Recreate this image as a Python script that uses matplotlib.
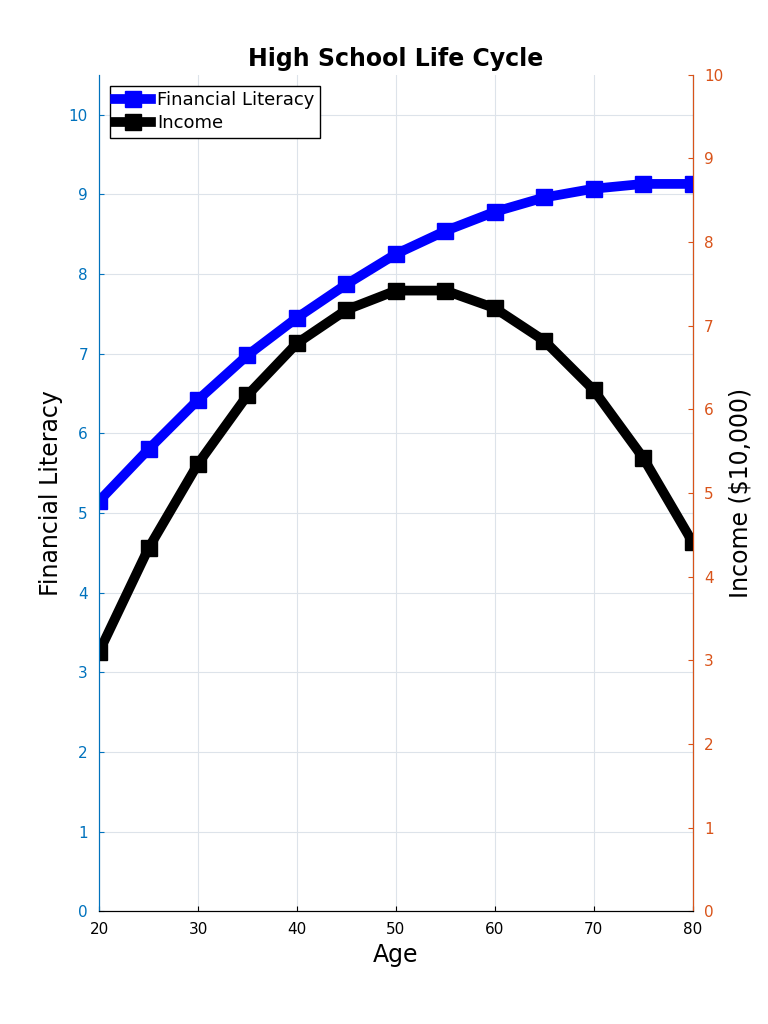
import matplotlib
matplotlib.use("Agg")
import matplotlib.pyplot as plt

age = [20, 25, 30, 35, 40, 45, 50, 55, 60, 65, 70, 75, 80]
fin_lit = [5.15, 5.8, 6.42, 6.98, 7.45, 7.87, 8.25, 8.54, 8.78, 8.96, 9.07, 9.13, 9.13]
income = [3.10, 4.34, 5.35, 6.17, 6.79, 7.19, 7.42, 7.42, 7.21, 6.82, 6.23, 5.42, 4.41]

blue_tick = (0, 114/255, 189/255)
orange_tick = (217/255, 83/255, 25/255)

fig = plt.figure(figsize=(7.68, 10.24), dpi=100)
ax = fig.add_axes([0.129, 0.110, 0.773, 0.817])
ax2 = ax.twinx()

l1, = ax.plot(age, fin_lit, color='blue', lw=7, marker='s', ms=11, label='Financial Literacy')
l2, = ax2.plot(age, income, color='black', lw=7, marker='s', ms=11, label='Income')

ax.set_xlim(20, 80)
ax.set_ylim(0, 10.5)
ax2.set_ylim(0, 10)
ax.set_xticks(range(20, 81, 10))
ax.set_yticks(range(0, 11))
ax2.set_yticks(range(0, 11))
ax.grid(True, color='#dde3ea', lw=0.8)
ax.set_axisbelow(True)

ax.tick_params(axis='y', colors=blue_tick, labelsize=11, direction='in', pad=8)
ax2.tick_params(axis='y', colors=orange_tick, labelsize=11, direction='in', pad=8)
ax.tick_params(axis='x', labelsize=11, direction='in', pad=8)
ax.spines['left'].set_color(blue_tick)
ax2.spines['left'].set_color(blue_tick)
ax2.spines['right'].set_color(orange_tick)
ax.spines['top'].set_visible(False)
ax2.spines['top'].set_visible(False)

ax.set_xlabel('Age', fontsize=17)
ax.set_ylabel('Financial Literacy', fontsize=17)
ax2.set_ylabel('Income ($10,000)', fontsize=17)
ax.set_title('High School Life Cycle', fontsize=17, fontweight='bold')

leg = ax.legend(handles=[l1, l2], loc='upper left', fontsize=13, fancybox=False,
                edgecolor='black', framealpha=1, borderaxespad=0.6, handlelength=2.0,
                handletextpad=0.3, borderpad=0.3, labelspacing=0.3)
leg.get_frame().set_linewidth(1)

fig.savefig('out.png', dpi=100)
